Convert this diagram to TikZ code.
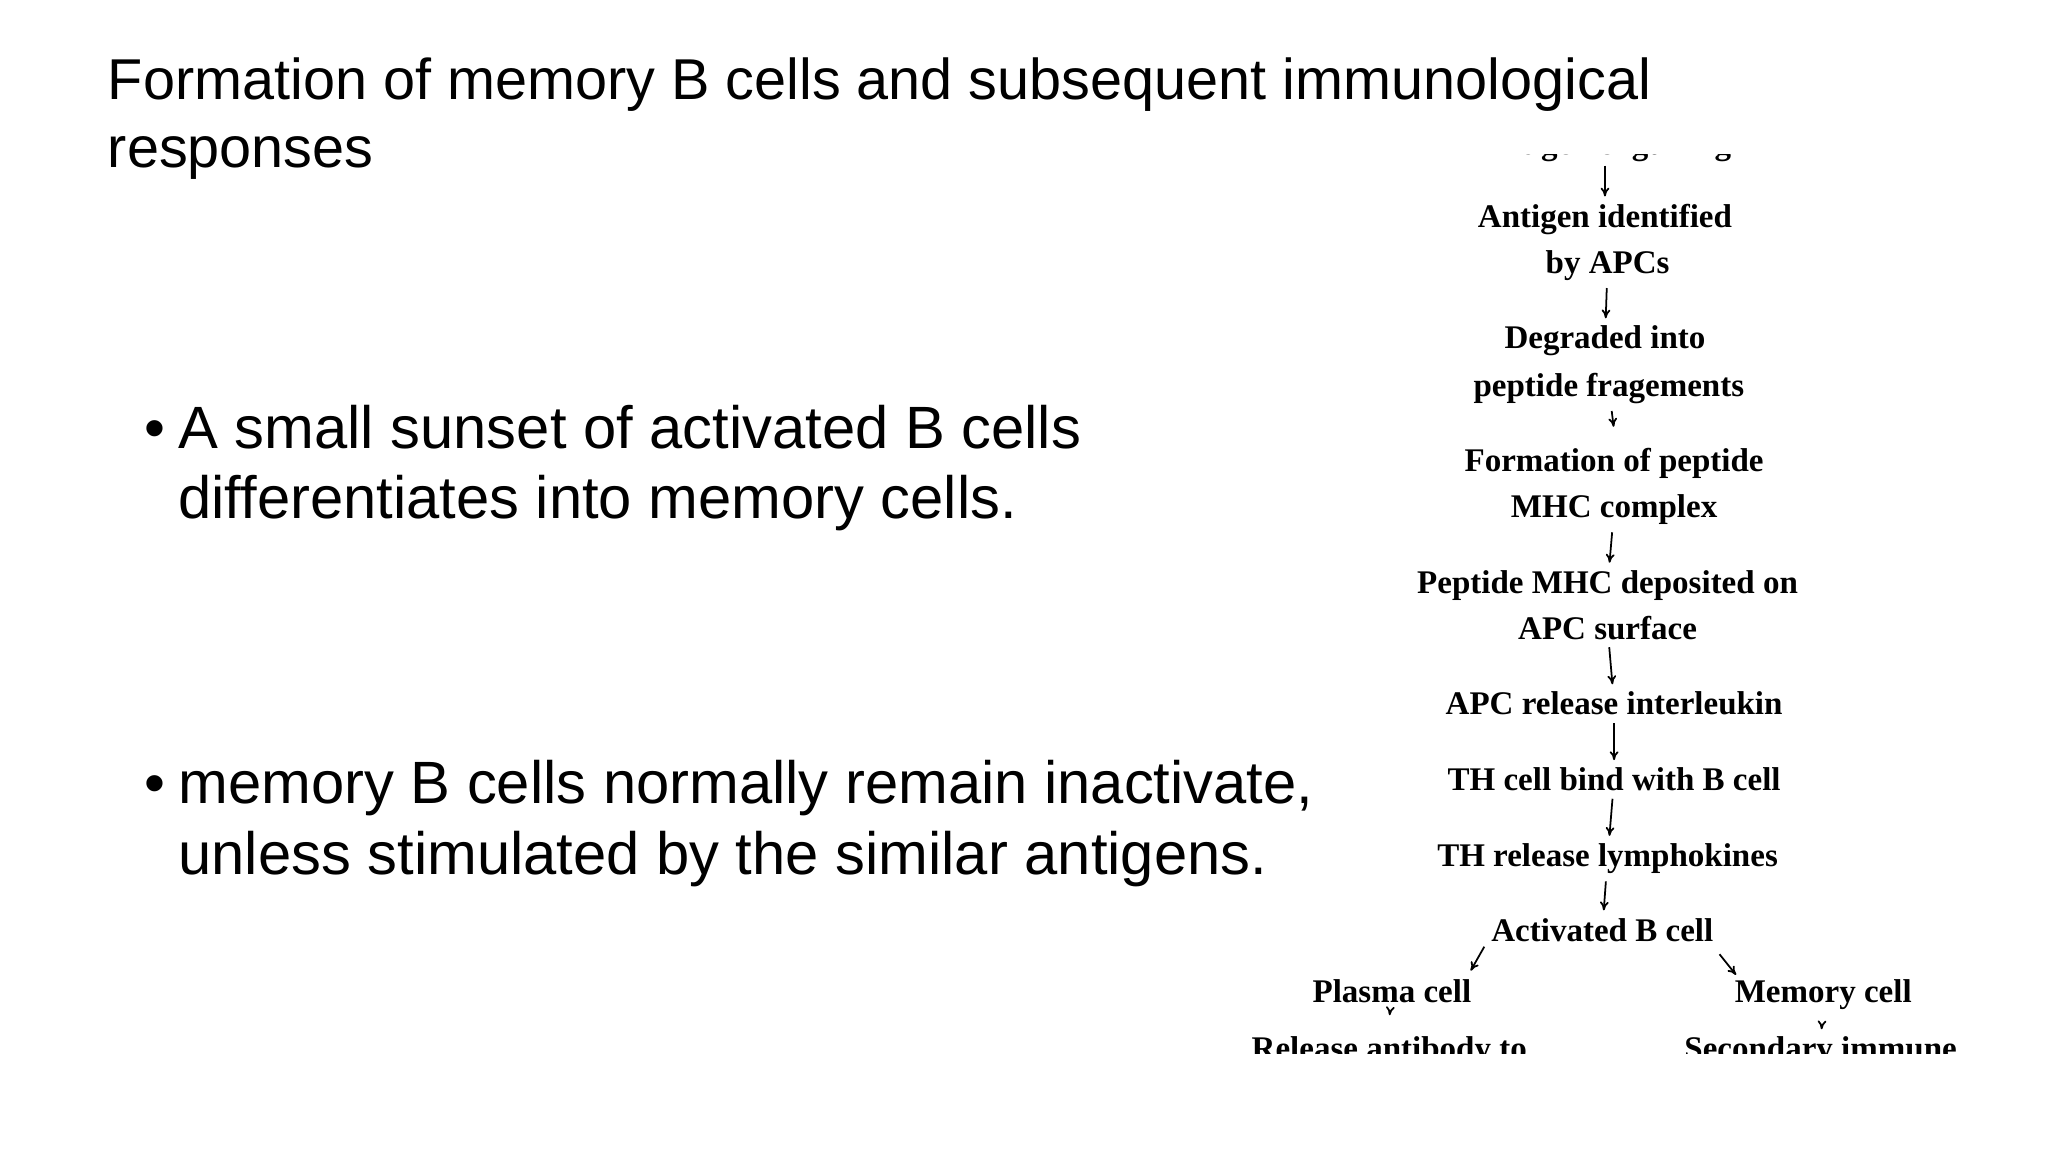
\documentclass[tikz,border=0pt]{standalone}
\usepackage{fontspec}
\usetikzlibrary{arrows.meta}
\setmainfont{Liberation Sans}
\newfontfamily\flowfont{Liberation Serif}
\tikzset{
  ttl/.style={anchor=base west,inner sep=0pt,font=\fontsize{16.4}{20}\selectfont},
  bul/.style={anchor=base west,inner sep=0pt,font=\fontsize{17.0}{22}\selectfont},
  fl/.style={anchor=base,inner sep=1pt,font=\flowfont\bfseries\fontsize{9.4}{11}\selectfont},
  ar/.style={-{To[length=2.5pt,width=2.5pt]},line width=0.5pt,shorten <=1pt,shorten >=1pt}
}
\begin{document}
\begin{tikzpicture}[x=0.01307cm,y=-0.01307cm]
\useasboundingbox (0,0) rectangle (1567,881);
\node[ttl] (t1) at (82,76) {Formation of memory B cells and subsequent immunological};
\node[ttl] (t2) at (82,128) {responses};
\node[bul] (b1) at (110,343) {•};
\node[bul] (l1) at (136,343) {A small sunset of activated B cells};
\node[bul] (l2) at (136,397) {differentiates into memory cells.};
\node[bul] (b2) at (110,615) {•};
\node[bul] (l3) at (136,615) {memory B cells normally remain inactivate,};
\node[bul] (l4) at (136,669) {unless stimulated by the similar antigens.};
\begin{scope}
\clip (940,118) rectangle (1510,806);
\node[fl] (f0) at (1228,118) {Antigen engulfing};
\node[fl] (f1) at (1228,174) {Antigen identified};
\node[fl] (f1b) at (1230,209) {by APCs};
\node[fl] (f2) at (1228,267) {Degraded into};
\node[fl] (f2b) at (1231,303) {peptide fragements};
\node[fl] (f3) at (1235,361) {Formation of peptide};
\node[fl] (f3b) at (1235,396) {MHC complex};
\node[fl] (f4) at (1230,454) {Peptide MHC deposited on};
\node[fl] (f4b) at (1230,489) {APC surface};
\node[fl] (f5) at (1235,547) {APC release interleukin};
\node[fl] (f6) at (1235,605) {TH cell bind with B cell};
\node[fl] (f7) at (1230,663) {TH release lymphokines};
\node[fl] (f8) at (1226,720) {Activated B cell};
\node[fl] (p) at (1065,767) {Plasma cell};
\node[fl] (m) at (1395,767) {Memory cell};
\node[fl] (p2) at (1063,811) {Release antibody to};
\node[fl] (m2) at (1393,811) {Secondary immune};
\coordinate (aw1) at (1137,722);
\coordinate (aw2) at (1124,745);
\coordinate (ae1) at (1314,728);
\coordinate (ae2) at (1330,748);
\coordinate (top) at (1228,124);
\draw[ar] (top) -- (f1);
\draw[ar] (f1b) -- (f2);
\draw[ar] (f2b) -- ([yshift=4]f3.north);
\draw[ar] (f3b) -- (f4);
\draw[ar] (f4b) -- (f5);
\draw[ar] (f5) -- (f6);
\draw[ar] (f6) -- (f7);
\draw[ar] (f7) -- (f8);
\draw[ar] (aw1) -- (aw2);
\draw[ar] (ae1) -- (ae2);
\draw[ar] (p) -- ([yshift=4]p2.north);
\draw[ar,shorten <=3pt] (m) -- (m2);
\end{scope}
\end{tikzpicture}
\end{document}
